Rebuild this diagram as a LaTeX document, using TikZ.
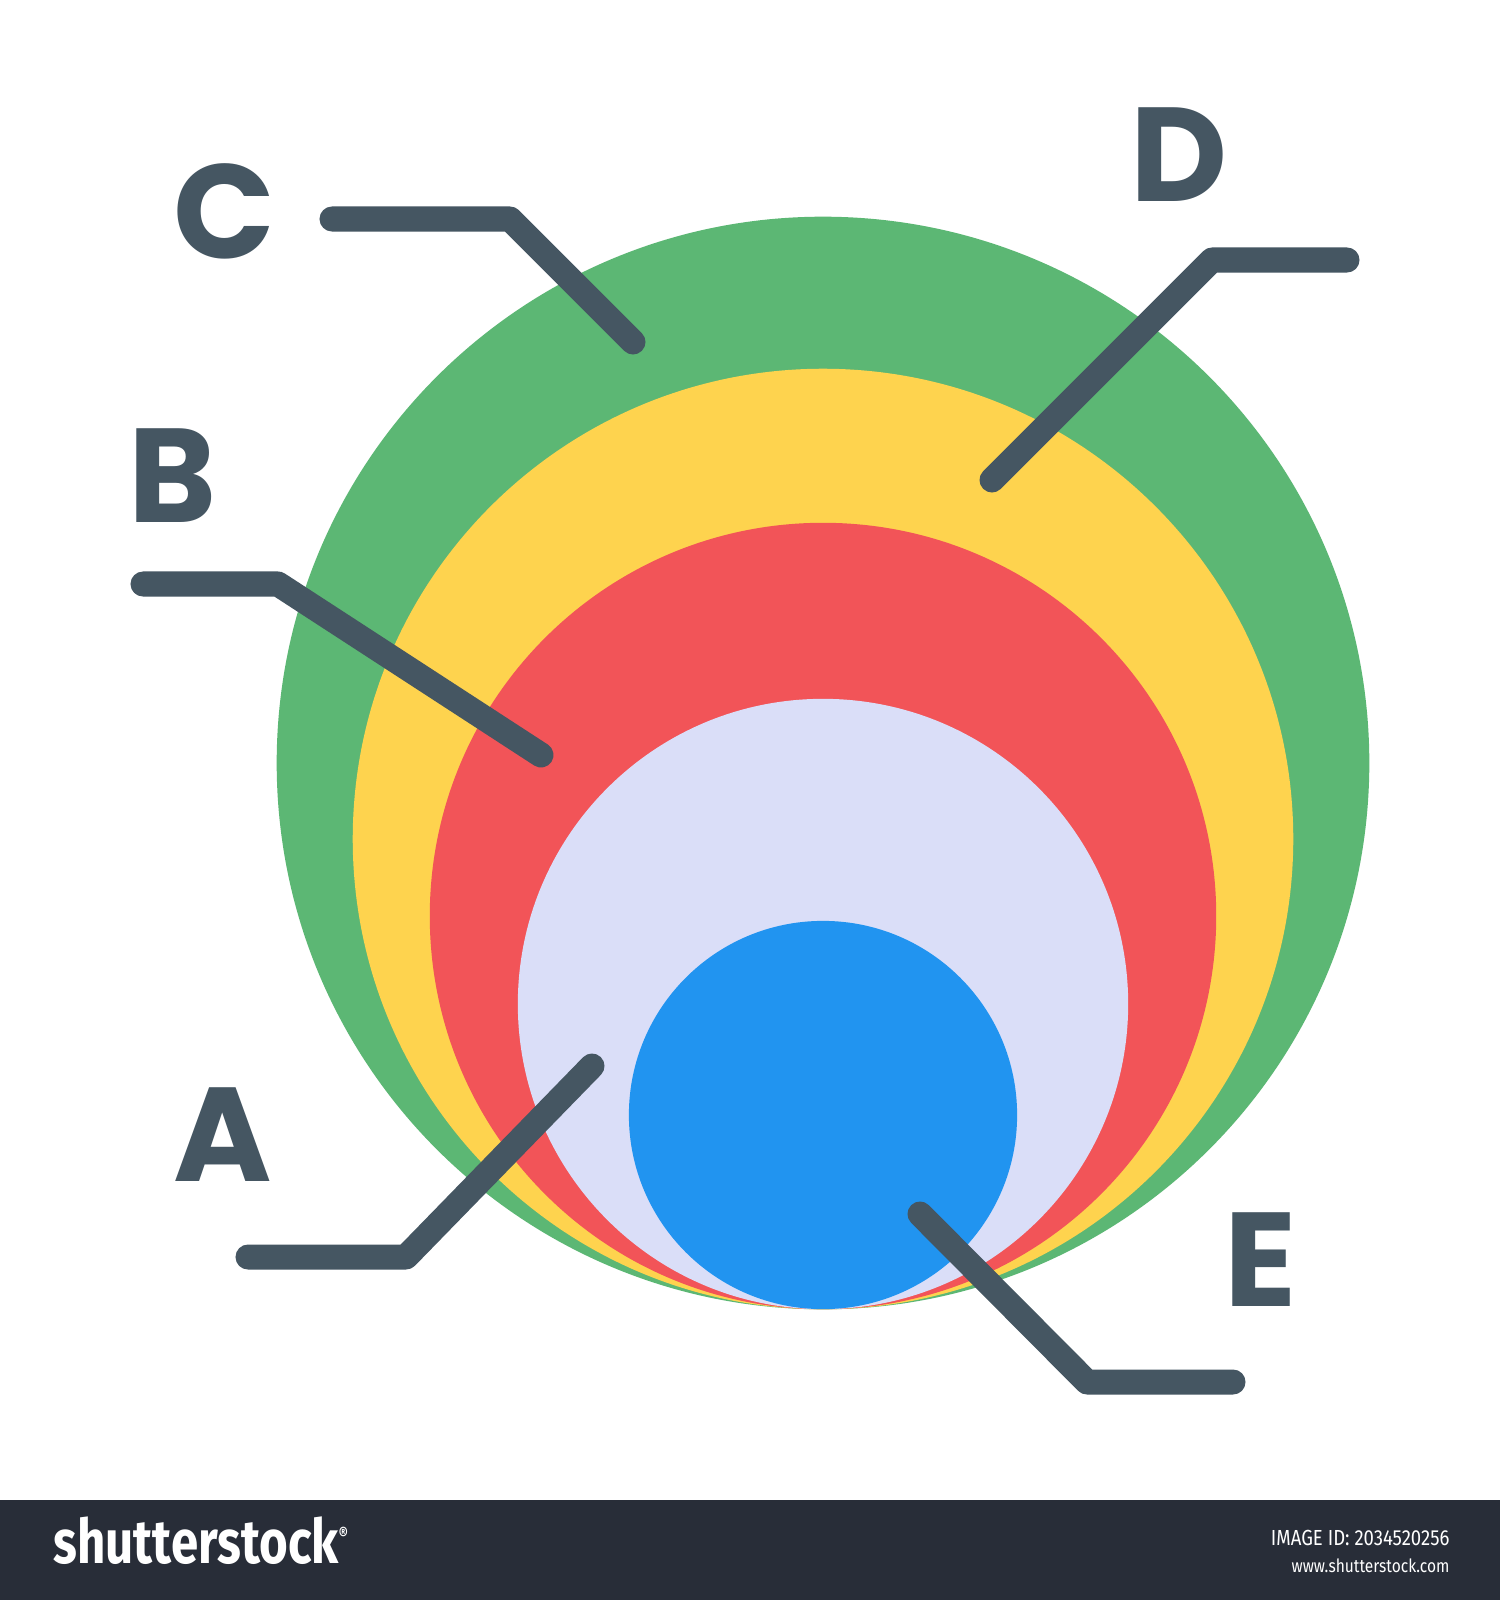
\documentclass[tikz,border=0pt]{standalone}
\usepackage{fontspec}
\setmainfont{Poppins}
\newfontfamily\logofont{Fira Sans}
\usetikzlibrary{positioning}
\definecolor{ringgreen}{RGB}{92,183,116}
\definecolor{ringyellow}{RGB}{254,211,78}
\definecolor{ringred}{RGB}{242,84,88}
\definecolor{ringlilac}{RGB}{218,222,248}
\definecolor{ringblue}{RGB}{33,148,240}
\definecolor{slate}{RGB}{69,86,98}
\definecolor{footer}{RGB}{40,45,56}
\tikzset{
	disc/.style = {circle, inner sep=0pt, draw=none},
	leader/.style = {draw=slate, line width=0.25cm, line cap=round, line join=round},
	tag/.style = {text=slate, inner sep=0pt, font=\fontsize{38}{38}\selectfont\bfseries}
}

\begin{document}
\begin{tikzpicture}
		[x=0.01cm, y=-0.01cm,
		footnote/.style = {text=white, inner sep=0pt, font=\logofont\fontsize{6.2}{6.2}\selectfont, xscale=0.85}
		]
		\useasboundingbox (0,0) rectangle (1500,1600);
		\fill[white] (0,0) rectangle (1500,1600);

		% nested circles, all touching at the bottom
		\node[disc, fill=ringgreen,  minimum size=10.92cm] (green)  at (823,763) {};
		\node[disc, fill=ringyellow, minimum size=9.40cm]  (yellow) at (823,839) {};
		\node[disc, fill=ringred,    minimum size=7.86cm]  (red)    at (823,916) {};
		\node[disc, fill=ringlilac,  minimum size=6.10cm]  (lilac)  at (823,1004) {};
		\node[disc, fill=ringblue,   minimum size=3.88cm]  (blue)   at (823,1115) {};

		% labels
		\node[tag] (C) at (224,211) {C};
		\node[tag] (D) at (1179,155) {D};
		\node[tag] (B) at (173,476) {B};
		\node[tag] (A) at (223,1135) {A};
		\node[tag] (E) at (1261,1260) {E};

		\coordinate (c1) at (332,219);  \coordinate (c2) at (510,219);  \coordinate (c3) at (633,342);
		\coordinate (d1) at (1347,260); \coordinate (d2) at (1212,260); \coordinate (d3) at (992,480);
		\coordinate (b1) at (143,584);  \coordinate (b2) at (278,584);  \coordinate (b3) at (541,755);
		\coordinate (a1) at (248,1257); \coordinate (a2) at (406,1257); \coordinate (a3) at (592,1066);
		\coordinate (e1) at (1233,1382); \coordinate (e2) at (1087,1382); \coordinate (e3) at (920,1214);

		\draw[leader] (c1) -- (c2) -- (c3);
		\draw[leader] (d1) -- (d2) -- (d3);
		\draw[leader] (b1) -- (b2) -- (b3);
		\draw[leader] (a1) -- (a2) -- (a3);
		\draw[leader] (e1) -- (e2) -- (e3);

		% footer band
		\fill[footer] (0,1500) rectangle (1500,1600);
		\node[text=white, inner sep=0pt, anchor=base west, xscale=0.8,
			font=\logofont\bfseries\fontsize{17.5}{17.5}\selectfont] (logo) at (53,1563) {shutterstock\textsuperscript{\tiny\textregistered}};
		\node[footnote, anchor=east] (imageid) at (1450,1538) {IMAGE ID: 2034520256};
		\node[footnote, anchor=east, font=\logofont\fontsize{5.2}{5.2}\selectfont] (site) at (1450,1566) {www.shutterstock.com};
	\end{tikzpicture}
\end{document}
